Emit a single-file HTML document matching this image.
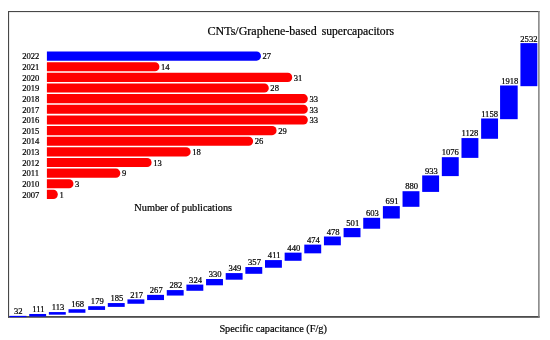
<!DOCTYPE html>
<html><head><meta charset="utf-8"><title>CNTs/Graphene-based supercapacitors</title>
<style>
html,body{margin:0;padding:0;background:#fff;}
svg{display:block;font-family:"Liberation Serif","Times New Roman",serif;fill:#000;}
text{stroke:#000;stroke-width:0.2px;}
</style></head><body>
<svg width="550" height="340" viewBox="0 0 550 340">
<rect x="0" y="0" width="550" height="340" fill="#fff"/>

<rect x="8" y="11" width="531.6" height="1.1" fill="#484848"/>
<rect x="8" y="11" width="1.1" height="306.7" fill="#484848"/>
<rect x="8" y="316" width="531.6" height="1.8" fill="#4c4c4c"/>
<rect x="538.15" y="11" width="1.45" height="306.7" fill="#7c7c7c"/>
<rect x="9.57" y="315.86" width="16.90" height="1.24" fill="#0000ff"/>
<text x="18.32" y="314.46" font-size="8.6" text-anchor="middle">32</text>
<rect x="29.22" y="313.98" width="16.90" height="2.58" fill="#0000ff"/>
<text x="38.37" y="312.47" font-size="8.6" text-anchor="middle">111</text>
<rect x="48.87" y="312.06" width="16.90" height="2.61" fill="#0000ff"/>
<text x="58.02" y="310.44" font-size="8.6" text-anchor="middle">113</text>
<rect x="68.52" y="309.22" width="16.90" height="3.55" fill="#0000ff"/>
<text x="77.67" y="307.48" font-size="8.6" text-anchor="middle">168</text>
<rect x="88.17" y="306.19" width="16.90" height="3.73" fill="#0000ff"/>
<text x="97.32" y="304.34" font-size="8.6" text-anchor="middle">179</text>
<rect x="107.81" y="303.05" width="16.90" height="3.83" fill="#0000ff"/>
<text x="116.96" y="301.20" font-size="8.6" text-anchor="middle">185</text>
<rect x="127.46" y="299.38" width="16.90" height="4.38" fill="#0000ff"/>
<text x="136.61" y="297.53" font-size="8.6" text-anchor="middle">217</text>
<rect x="147.11" y="294.86" width="16.90" height="5.22" fill="#0000ff"/>
<text x="156.26" y="293.01" font-size="8.6" text-anchor="middle">267</text>
<rect x="166.76" y="290.08" width="16.90" height="5.48" fill="#0000ff"/>
<text x="175.91" y="288.23" font-size="8.6" text-anchor="middle">282</text>
<rect x="186.41" y="284.59" width="16.90" height="6.19" fill="#0000ff"/>
<text x="195.56" y="282.74" font-size="8.6" text-anchor="middle">324</text>
<rect x="206.06" y="279.01" width="16.90" height="6.29" fill="#0000ff"/>
<text x="215.21" y="277.16" font-size="8.6" text-anchor="middle">330</text>
<rect x="225.70" y="273.09" width="16.90" height="6.61" fill="#0000ff"/>
<text x="234.85" y="271.24" font-size="8.6" text-anchor="middle">349</text>
<rect x="245.35" y="267.05" width="16.90" height="6.75" fill="#0000ff"/>
<text x="254.50" y="265.20" font-size="8.6" text-anchor="middle">357</text>
<rect x="265.00" y="260.09" width="16.90" height="7.66" fill="#0000ff"/>
<text x="274.15" y="258.24" font-size="8.6" text-anchor="middle">411</text>
<rect x="284.65" y="252.64" width="16.90" height="8.15" fill="#0000ff"/>
<text x="293.80" y="250.79" font-size="8.6" text-anchor="middle">440</text>
<rect x="304.30" y="244.61" width="16.90" height="8.73" fill="#0000ff"/>
<text x="313.45" y="242.76" font-size="8.6" text-anchor="middle">474</text>
<rect x="323.94" y="236.51" width="16.90" height="8.80" fill="#0000ff"/>
<text x="333.09" y="234.66" font-size="8.6" text-anchor="middle">478</text>
<rect x="343.59" y="228.03" width="16.90" height="9.18" fill="#0000ff"/>
<text x="352.74" y="226.18" font-size="8.6" text-anchor="middle">501</text>
<rect x="363.24" y="217.82" width="16.90" height="10.91" fill="#0000ff"/>
<text x="372.39" y="215.97" font-size="8.6" text-anchor="middle">603</text>
<rect x="382.89" y="206.11" width="16.90" height="12.40" fill="#0000ff"/>
<text x="392.04" y="204.26" font-size="8.6" text-anchor="middle">691</text>
<rect x="402.54" y="191.21" width="16.90" height="15.60" fill="#0000ff"/>
<text x="411.69" y="189.36" font-size="8.6" text-anchor="middle">880</text>
<rect x="422.19" y="175.41" width="16.90" height="16.50" fill="#0000ff"/>
<text x="431.34" y="173.56" font-size="8.6" text-anchor="middle">933</text>
<rect x="441.83" y="157.18" width="16.90" height="18.92" fill="#0000ff"/>
<text x="450.28" y="155.33" font-size="8.6" text-anchor="middle">1076</text>
<rect x="461.48" y="138.08" width="16.90" height="19.80" fill="#0000ff"/>
<text x="469.93" y="136.23" font-size="8.6" text-anchor="middle">1128</text>
<rect x="481.13" y="118.47" width="16.90" height="20.31" fill="#0000ff"/>
<text x="489.58" y="116.62" font-size="8.6" text-anchor="middle">1158</text>
<rect x="500.08" y="85.49" width="17.60" height="33.68" fill="#0000ff"/>
<text x="509.73" y="84.19" font-size="8.6" text-anchor="middle">1918</text>
<rect x="520.43" y="43.10" width="16.90" height="43.08" fill="#0000ff"/>
<text x="528.88" y="41.75" font-size="8.6" text-anchor="middle">2532</text>
<path d="M46.9 51.55H256.54A4.4 4.4 0 0 1 260.94 55.95V56.25A4.4 4.4 0 0 1 256.54 60.65H46.9Z" fill="#0000ff"/>
<text x="262.54" y="59.30" font-size="8.6">27</text>
<text x="22.2" y="59.30" font-size="8.6">2022</text>
<path d="M46.9 62.19H154.97A4.4 4.4 0 0 1 159.38 66.59V66.89A4.4 4.4 0 0 1 154.97 71.29H46.9Z" fill="#ff0000"/>
<text x="160.97" y="69.94" font-size="8.6">14</text>
<text x="22.2" y="69.94" font-size="8.6">2021</text>
<path d="M46.9 72.83H287.79A4.4 4.4 0 0 1 292.19 77.23V77.53A4.4 4.4 0 0 1 287.79 81.93H46.9Z" fill="#ff0000"/>
<text x="293.79" y="80.58" font-size="8.6">31</text>
<text x="22.2" y="80.58" font-size="8.6">2020</text>
<path d="M46.9 83.47H264.35A4.4 4.4 0 0 1 268.75 87.87V88.17A4.4 4.4 0 0 1 264.35 92.57H46.9Z" fill="#ff0000"/>
<text x="270.35" y="91.22" font-size="8.6">28</text>
<text x="22.2" y="91.22" font-size="8.6">2019</text>
<path d="M46.9 94.11H303.41A4.4 4.4 0 0 1 307.81 98.51V98.81A4.4 4.4 0 0 1 303.41 103.21H46.9Z" fill="#ff0000"/>
<text x="309.41" y="101.86" font-size="8.6">33</text>
<text x="22.2" y="101.86" font-size="8.6">2018</text>
<path d="M46.9 104.75H303.41A4.4 4.4 0 0 1 307.81 109.15V109.45A4.4 4.4 0 0 1 303.41 113.85H46.9Z" fill="#ff0000"/>
<text x="309.41" y="112.50" font-size="8.6">33</text>
<text x="22.2" y="112.50" font-size="8.6">2017</text>
<path d="M46.9 115.39H303.41A4.4 4.4 0 0 1 307.81 119.79V120.09A4.4 4.4 0 0 1 303.41 124.49H46.9Z" fill="#ff0000"/>
<text x="309.41" y="123.14" font-size="8.6">33</text>
<text x="22.2" y="123.14" font-size="8.6">2016</text>
<path d="M46.9 126.03H272.16A4.4 4.4 0 0 1 276.56 130.43V130.73A4.4 4.4 0 0 1 272.16 135.13H46.9Z" fill="#ff0000"/>
<text x="278.16" y="133.78" font-size="8.6">29</text>
<text x="22.2" y="133.78" font-size="8.6">2015</text>
<path d="M46.9 136.67H248.72A4.4 4.4 0 0 1 253.12 141.07V141.37A4.4 4.4 0 0 1 248.72 145.77H46.9Z" fill="#ff0000"/>
<text x="254.72" y="144.42" font-size="8.6">26</text>
<text x="22.2" y="144.42" font-size="8.6">2014</text>
<path d="M46.9 147.31H186.22A4.4 4.4 0 0 1 190.62 151.71V152.01A4.4 4.4 0 0 1 186.22 156.41H46.9Z" fill="#ff0000"/>
<text x="192.22" y="155.06" font-size="8.6">18</text>
<text x="22.2" y="155.06" font-size="8.6">2013</text>
<path d="M46.9 157.95H147.16A4.4 4.4 0 0 1 151.56 162.35V162.65A4.4 4.4 0 0 1 147.16 167.05H46.9Z" fill="#ff0000"/>
<text x="153.16" y="165.70" font-size="8.6">13</text>
<text x="22.2" y="165.70" font-size="8.6">2012</text>
<path d="M46.9 168.59H115.91A4.4 4.4 0 0 1 120.31 172.99V173.29A4.4 4.4 0 0 1 115.91 177.69H46.9Z" fill="#ff0000"/>
<text x="121.91" y="176.34" font-size="8.6">9</text>
<text x="22.2" y="176.34" font-size="8.6">2011</text>
<path d="M46.9 179.23H69.04A4.4 4.4 0 0 1 73.44 183.63V183.93A4.4 4.4 0 0 1 69.04 188.33H46.9Z" fill="#ff0000"/>
<text x="75.04" y="186.98" font-size="8.6">3</text>
<text x="22.2" y="186.98" font-size="8.6">2010</text>
<path d="M46.9 189.87H53.41A4.4 4.4 0 0 1 57.81 194.27V194.57A4.4 4.4 0 0 1 53.41 198.97H46.9Z" fill="#ff0000"/>
<text x="59.41" y="197.62" font-size="8.6">1</text>
<text x="22.2" y="197.62" font-size="8.6">2007</text>
<text y="34.5" font-size="12"><tspan x="207.5">CNTs/Graphene-based</tspan> <tspan x="321.7" font-size="11.65">supercapacitors</tspan></text>
<text x="134.3" y="211" font-size="10.3">Number of publications</text>
<text x="219.4" y="332" font-size="10.3">Specific capacitance (F/g)</text>
</svg></body></html>
